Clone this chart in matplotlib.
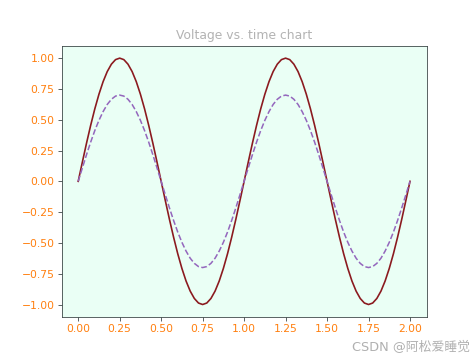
import numpy as np
import matplotlib
matplotlib.use("Agg")
import matplotlib.pyplot as plt

plt.rcParams['font.family'] = ['DejaVu Sans', 'Noto Sans CJK SC']

# time samples (s)
time_s = np.linspace(0.0, 2.0, 81)

# voltage
voltage = [0.000, 0.156, 0.309, 0.454, 0.588, 0.707, 0.809, 0.891, 0.951, 0.988,
           1.000, 0.988, 0.951, 0.891, 0.809, 0.707, 0.588, 0.454, 0.309, 0.156,
           0.000, -0.156, -0.309, -0.454, -0.588, -0.707, -0.809, -0.891, -0.951, -0.988,
           -1.000, -0.988, -0.951, -0.891, -0.809, -0.707, -0.588, -0.454, -0.309, -0.156,
           0.000, 0.156, 0.309, 0.454, 0.588, 0.707, 0.809, 0.891, 0.951, 0.988,
           1.000, 0.988, 0.951, 0.891, 0.809, 0.707, 0.588, 0.454, 0.309, 0.156,
           0.000, -0.156, -0.309, -0.454, -0.588, -0.707, -0.809, -0.891, -0.951, -0.988,
           -1.000, -0.988, -0.951, -0.891, -0.809, -0.707, -0.588, -0.454, -0.309, -0.156,
           0.000]

# voltage
voltage_scaled = [0.000, 0.109, 0.216, 0.318, 0.412, 0.495, 0.566, 0.624, 0.666, 0.692,
                  0.700, 0.692, 0.666, 0.624, 0.566, 0.495, 0.412, 0.318, 0.216, 0.109,
                  0.000, -0.109, -0.216, -0.318, -0.412, -0.495, -0.566, -0.624, -0.666, -0.692,
                  -0.700, -0.692, -0.666, -0.624, -0.566, -0.495, -0.412, -0.318, -0.216, -0.109,
                  0.000, 0.109, 0.216, 0.318, 0.412, 0.495, 0.566, 0.624, 0.666, 0.692,
                  0.700, 0.692, 0.666, 0.624, 0.566, 0.495, 0.412, 0.318, 0.216, 0.109,
                  0.000, -0.109, -0.216, -0.318, -0.412, -0.495, -0.566, -0.624, -0.666, -0.692,
                  -0.700, -0.692, -0.666, -0.624, -0.566, -0.495, -0.412, -0.318, -0.216, -0.109,
                  0.000]

title = 'Voltage vs. time chart'
watermark = 'CSDN @阿松爱睡觉'

dpi = 74.0
fig, ax = plt.subplots(figsize=(474 / dpi, 358 / dpi), dpi=dpi)
fig.subplots_adjust(left=0.13, right=0.9, top=0.872, bottom=0.115)

ax.set_facecolor('#eafff5')
ax.plot(time_s, voltage, color='#8b1a1f', linewidth=1.6)
ax.plot(time_s, voltage_scaled, color='#9467bd', linestyle='--', linewidth=1.5)

ax.set_title(title, color='0.7', fontsize=12, pad=7)
ax.tick_params(labelcolor='tab:orange', labelsize=10.5, color='#3a4545')
for s in ax.spines.values():
    s.set_color('#3a4545')

ax.set_xticks([0.0, 0.25, 0.5, 0.75, 1.0, 1.25, 1.5, 1.75, 2.0])
ax.set_yticks([-1.0, -0.75, -0.5, -0.25, 0.0, 0.25, 0.5, 0.75, 1.0])

fig.text(0.992, 0.012, watermark, ha='right', va='bottom', color='#b0b0b0',
         fontsize=12.5, family=['DejaVu Sans', 'Noto Sans CJK SC'])

fig.savefig('out.png', dpi=dpi)
